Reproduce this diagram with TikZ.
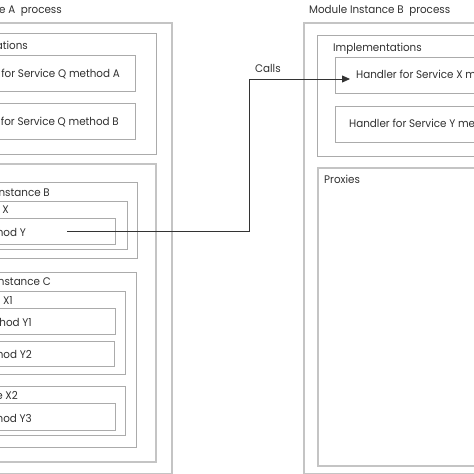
\documentclass[tikz,border=0pt]{standalone}
\usepackage{fontspec}
\setmainfont{Poppins}[FakeStretch=0.94]
\usetikzlibrary{arrows.meta}
\definecolor{boxgray}{HTML}{ABABAB}
\definecolor{outergray}{HTML}{C4C4C4}
\definecolor{txtgray}{HTML}{303030}
\tikzset{
  box/.style={draw=boxgray, line width=1pt, rectangle, anchor=north west, inner sep=0pt},
  outerbox/.style={draw=outergray, line width=1.6pt, rectangle, anchor=north west, inner sep=0pt},
  lblE/.style={anchor=base east, inner sep=0pt, text=txtgray, font=\fontsize{11}{13}\selectfont},
  lblW/.style={anchor=base west, inner sep=0pt, text=txtgray, font=\fontsize{11}{13}\selectfont},
  conn/.style={draw=black!80, line width=0.8pt},
}
\newcommand{\boxat}[6]{\node[#1, minimum width=#4-#2, minimum height=#5-#3] (#6) at (#2,#3) {};}
\begin{document}
\begin{tikzpicture}[x=1pt,y=-1pt]
\useasboundingbox (0,0) rectangle (474,474);
\clip (0,0) rectangle (474,474);
% ---------- left process (Module Instance A) ----------
\boxat{outerbox}{-90}{22}{171}{473}{outerA}
\boxat{box}{-80}{33}{156}{154}{implA}
\boxat{box}{-70}{55}{135}{91}{hQA}
\boxat{box}{-70}{103}{135}{139}{hQB}
\boxat{outerbox}{-80}{163}{155}{461}{proxA}
\boxat{box}{-70}{182}{137}{258}{miB}
\boxat{box}{-60}{201}{127}{249}{sX}
\boxat{box}{-50}{218}{115}{244}{mY}
\boxat{box}{-70}{272}{136}{447}{miC}
\boxat{box}{-60}{291}{125}{374}{sX1}
\boxat{box}{-50}{308}{115}{334}{mY1}
\boxat{box}{-50}{341}{114}{366}{mY2}
\boxat{box}{-60}{386}{125}{435}{sX2}
\boxat{box}{-50}{403}{115}{430}{mY3}
\node[lblE] (tA) at (62,13) {Module Instance A\ \ process};
\node[lblE] (tImplA) at (28,49) {Implementations};
\node[lblE] (tQA) at (120,77) {Handler for Service Q method A};
\node[lblE] (tQB) at (119,125) {Handler for Service Q method B};
\node[lblE] (tMiB) at (50,196) {Module Instance B};
\node[lblE] (tSX) at (9,213) {Service X};
\node[lblE] (tMY) at (26,236) {method Y};
\node[lblE] (tMiC) at (51,285) {Module Instance C};
\node[lblE] (tSX1) at (13,304) {Service X1};
\node[lblE] (tMY1) at (32,326) {method Y1};
\node[lblE] (tMY2) at (32,358) {method Y2};
\node[lblE] (tSX2) at (18,399) {Service X2};
\node[lblE] (tMY3) at (32,422) {method Y3};
% ---------- right process (Module Instance B) ----------
\boxat{outerbox}{303}{22}{520}{473}{outerB}
\boxat{box}{317}{35}{510}{156}{implB}
\boxat{box}{335}{57}{500}{93}{hX}
\boxat{box}{335}{106}{500}{142}{hY}
\boxat{outerbox}{317}{167}{510}{465}{proxB}
\node[lblW] (tB) at (309,13) {Module Instance B\ \ process};
\node[lblW] (tImplB) at (333,51) {Implementations};
\node[lblW] (tHX) at (356,78) {Handler for Service X method Y};
\node[lblW] (tHY) at (349,127) {Handler for Service Y method Y};
\node[lblW] (tProxB) at (324,183) {Proxies};
% ---------- connector ----------
\node[lblW] (calls) at (255,72) {Calls};
\coordinate (src) at (67,231);
\coordinate (bend) at (249,79);
\coordinate (tgt) at (350,79);
\draw[conn, -{Triangle[length=8pt,width=7pt]}] (src) -| (bend) -- (tgt);
\end{tikzpicture}
\end{document}
